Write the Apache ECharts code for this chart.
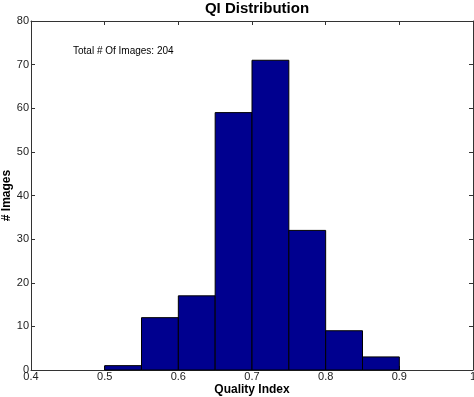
<!DOCTYPE html>
<html lang="en" style="height: 100%">
<head>
  <meta charset="UTF-8" />
  <title>QI Distribution</title>
  <script src="https://cdn.jsdelivr.net/npm/echarts@6/dist/echarts.min.js"></script>
  <style>
    html, body {
      height: 100%;
      margin: 0;
      background-color: #fff;
    }
    #chart {
      width: 474px;
      height: 397px;
    }
  </style>
</head>
<body>
  <div id="chart"></div>

  <script>
    // histogram bins (left edge) and counts
    const binStarts = [0.5, 0.55, 0.6, 0.65, 0.7, 0.75, 0.8, 0.85];
    const binWidth = 0.05;
    const counts = [1, 12, 17, 59, 71, 32, 9, 3];
    const xTicks = [0.4, 0.5, 0.6, 0.7, 0.8, 0.9, 1];
    const yTicks = [0, 10, 20, 30, 40, 50, 60, 70, 80];
    const totalLabel = 'Total # Of Images: 204';

    const chart = echarts.init(document.getElementById('chart'));

    const font = 'Liberation Sans, Arial, sans-serif';
    const axisColor = '#333';

    const tickAxis = (extra) => Object.assign({
      axisLine: { show: true, onZero: false, lineStyle: { color: axisColor, width: 1 } },
      axisTick: { show: true, inside: true, length: 4, lineStyle: { color: axisColor } },
      splitLine: { show: false }
    }, extra);

    chart.setOption({
      animation: false,
      backgroundColor: '#fff',
      title: {
        text: 'QI Distribution',
        left: 252,
        textAlign: 'center',
        top: -4,
        textStyle: { fontFamily: font, fontSize: 15, fontWeight: 'bold', color: '#000' }
      },
      graphic: [{
        type: 'text',
        left: 73,
        top: 46,
        style: { text: totalLabel, fontFamily: font, fontSize: 10, fill: '#000' }
      }],
      grid: { left: 31, right: 1, top: 21, bottom: 27, outerBoundsMode: 'none', containLabel: false },
      xAxis: [
        tickAxis({
          type: 'value', min: xTicks[0], max: xTicks[xTicks.length - 1], interval: 0.1,
          position: 'bottom',
          name: 'Quality Index', nameLocation: 'middle', nameGap: 14, nameMoveOverlap: false,
          nameTextStyle: { fontFamily: font, fontSize: 12, fontWeight: 'bold', color: '#000' },
          axisLabel: {
            fontFamily: font, fontSize: 11, color: '#222', margin: 1,
            showMaxLabel: true, showMinLabel: true,
            formatter: v => String(Math.round(v * 10) / 10)
          }
        }),
        tickAxis({
          type: 'value', min: xTicks[0], max: xTicks[xTicks.length - 1], interval: 0.1,
          position: 'top', axisLabel: { show: false }
        })
      ],
      yAxis: [
        tickAxis({
          type: 'value', min: yTicks[0], max: yTicks[yTicks.length - 1], interval: 10,
          position: 'left',
          name: '# Images', nameLocation: 'middle', nameGap: 18, nameMoveOverlap: false,
          nameTextStyle: { fontFamily: font, fontSize: 12, fontWeight: 'bold', color: '#000' },
          axisLabel: { fontFamily: font, fontSize: 11, color: '#222', margin: 2, verticalAlign: 'middle' }
        }),
        tickAxis({
          type: 'value', min: yTicks[0], max: yTicks[yTicks.length - 1], interval: 10,
          position: 'right', axisLabel: { show: false }
        })
      ],
      series: [{
        type: 'custom',
        xAxisIndex: 0,
        yAxisIndex: 0,
        data: binStarts.map((b, i) => [b, b + binWidth, counts[i]]),
        renderItem: (params, api) => {
          const p0 = api.coord([api.value(0), api.value(2)]);
          const p1 = api.coord([api.value(1), 0]);
          return {
            type: 'rect',
            shape: { x: p0[0], y: p0[1], width: p1[0] - p0[0], height: p1[1] - p0[1] },
            style: { fill: '#00008F', stroke: '#000', lineWidth: 1 }
          };
        }
      }]
    });
  </script>
</body>
</html>
